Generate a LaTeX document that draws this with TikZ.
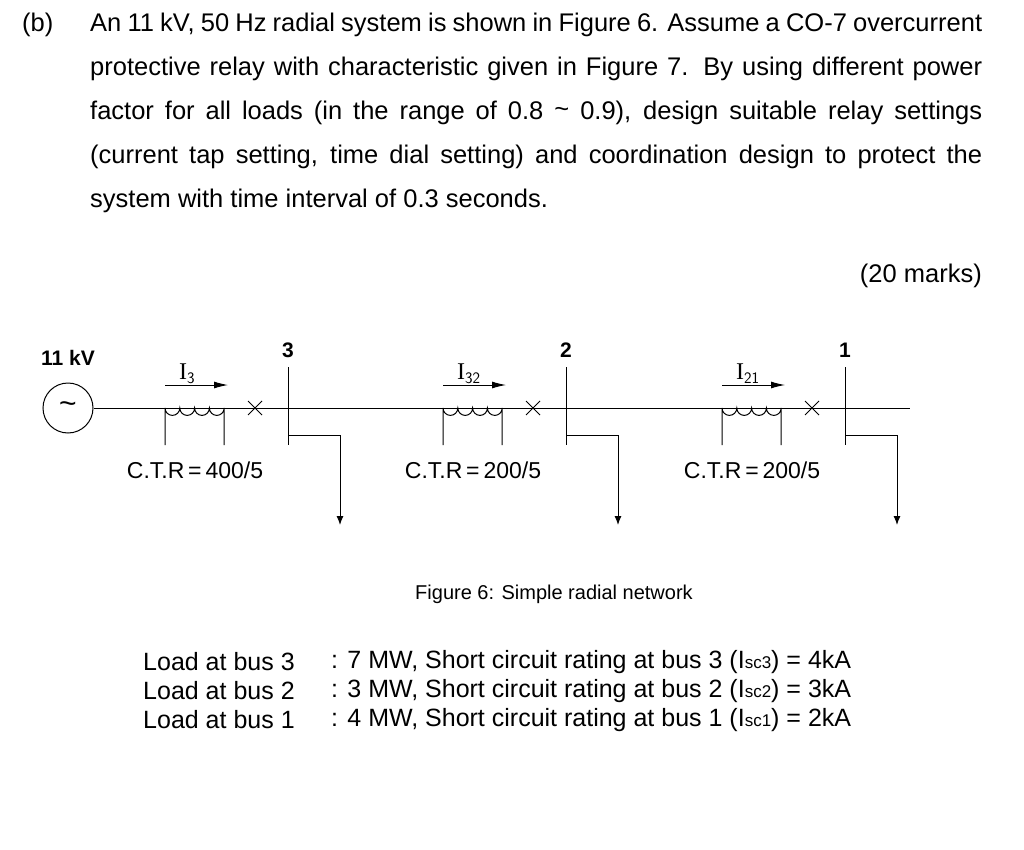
\documentclass[tikz,border=0pt]{standalone}
\usepackage{fontspec}
\setmainfont{Liberation Sans}
\newfontfamily\serifI{Liberation Serif}
\usetikzlibrary{arrows.meta}
\begin{document}
\begin{tikzpicture}[x=1pt,y=-1pt,
  ln/.style={line width=1pt},
  lbl/.style={font=\fontsize{23}{26}\selectfont, inner sep=0pt},
  txt/.style={font=\fontsize{25.5}{44}\selectfont, inner sep=0pt, anchor=north west}]
\useasboundingbox (0,0) rectangle (1024,850);
\node[txt] (b) at (22,13) {(b)};
\node[txt, text width=892pt, align=justify] (q) at (90,13) {An 11 kV, 50 Hz radial system is shown in Figure 6. Assume a CO-7 overcurrent\linebreak protective relay with characteristic given in Figure 7. By using different power\linebreak factor for all loads (in the range of 0.8 \raisebox{2pt}{\textasciitilde} 0.9), design suitable relay settings\linebreak (current tap setting, time dial setting) and coordination design to protect the\linebreak system with time interval of 0.3 seconds.};
\node[txt, anchor=north east] (m) at (982,264) {(20 marks)};
% generator
\node[draw, ln, circle, minimum size=50pt, inner sep=0pt, font=\fontsize{30}{30}\selectfont] (g) at (68,408) {\raisebox{-4pt}{\textasciitilde}};
\node[lbl, font=\fontsize{21}{24}\selectfont\bfseries] (kv) at (68,358) {11 kV};
\coordinate (e) at (910,408);
\draw[ln] (g.east) -- (e);
\foreach \i/\x/\b/\cur/\ct in {0/0/3/3/400,1/278/2/32/200,2/557/1/21/200}{
  \begin{scope}[xshift=\x]
  \draw[ln] (165,445) -- (165,408) arc(180:0:7.4) arc(180:0:7.4) arc(180:0:7.4) arc(180:0:7.4) -- (224,445);
  \draw[ln] (248,401) -- (262,415) (248,415) -- (262,401);
  \coordinate (t\i) at (288,367); \coordinate (u\i) at (288,445);
  \draw[ln] (t\i) -- (u\i);
  \coordinate (l\i) at (340,525);
  \draw[ln,-{Latex[length=9pt,width=7pt]}] (288,435) -| (l\i);
  \draw[ln,-{Latex[length=14pt,width=7pt]}] (165,385) -- (228,385);
  \node[lbl, anchor=south west, font=\fontsize{24}{26}\serifI] at (179,384) {I\raisebox{-4pt}{\fontsize{16}{18}\selectfont\sffamily\cur}};
  \node[lbl, anchor=south, font=\fontsize{21}{24}\selectfont\bfseries] at (288,358) {\b};
  \node[lbl] at (195,470) {C.T.R\,=\,\ct/5};
  \end{scope}}
\node[lbl, font=\fontsize{20}{24}\selectfont] (cap) at (554,594) {Figure 6: Simple radial network};
\foreach \y/\b/\p/\s/\k in {662/3/7/3/4,691/2/3/2/3,720/1/4/1/2}{
  \node[lbl, font=\fontsize{25}{28}\selectfont, anchor=west] at (143,\y) {Load at bus \b};
  \node[lbl, font=\fontsize{25}{28}\selectfont, anchor=west] at (331,\y) {: \p\ MW, Short circuit rating at bus \b\ (I{\fontsize{17}{19}\selectfont sc\s}) = \k kA};
}
\end{tikzpicture}
\end{document}
